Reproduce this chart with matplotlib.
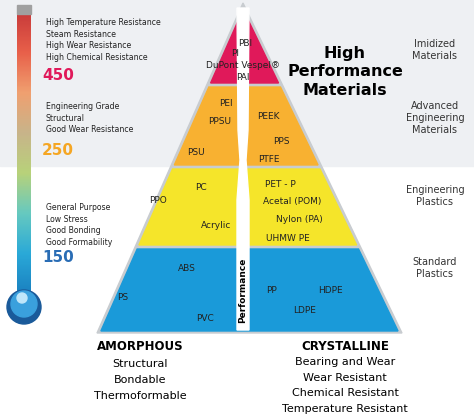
import matplotlib
matplotlib.use("Agg")
import matplotlib.pyplot as plt
import numpy as np
from matplotlib.patches import Polygon, Rectangle, Circle
from matplotlib.colors import LinearSegmentedColormap

# ---- data ----
tiers = ["Imidized\nMaterials", "Advanced\nEngineering\nMaterials", "Engineering\nPlastics", "Standard\nPlastics"]
tier_colors = ["#e0195a", "#f8b131", "#f5e52a", "#1a9ad9"]
tier_bounds = [5, 85, 167, 247, 333]  # y of tier edges (pixel)
temps = ["450", "250", "150"]
temp_colors = ["#e0195a", "#f5a623", "#2a6db5"]
props = ["High Temperature Resistance\nSteam Resistance\nHigh Wear Resistance\nHigh Chemical Resistance",
         "Engineering Grade\nStructural\nGood Wear Resistance",
         "General Purpose\nLow Stress\nGood Bonding\nGood Formability"]
materials = ["PBI", "PI", "DuPont Vespel®", "PAI", "PEI", "PPSU", "PSU", "PEEK", "PPS", "PTFE",
             "PPO", "PC", "Acrylic", "PET - P", "Acetal (POM)", "Nylon (PA)", "UHMW PE",
             "ABS", "PS", "PVC", "PP", "HDPE", "LDPE"]
mat_pos = [(245, 43), (235, 54), (243, 66), (243, 77), (226, 103), (220, 121), (196, 152), (268, 116),
           (281, 141), (269, 159), (158, 200), (201, 187), (216, 225), (280, 184), (292, 201),
           (299, 219), (288, 238), (187, 268), (123, 297), (205, 318), (272, 290), (330, 290), (305, 310)]
amorph = ["Structural", "Bondable", "Thermoformable"]
cryst = ["Bearing and Wear", "Wear Resistant", "Chemical Resistant", "Temperature Resistant"]

W, H = 474, 415
fig = plt.figure(figsize=(W/100, H/100), dpi=100)
ax = fig.add_axes([0, 0, 1, 1])
ax.set_xlim(0, W); ax.set_ylim(H, 0); ax.axis("off")
ax.add_patch(Rectangle((0, 0), W, 166, color="#eef0f3", zorder=0))

apex = (243, 3); bl = (97, 333); br = (402, 333)
def xl(y): return apex[0] + (bl[0]-apex[0])*(y-apex[1])/(bl[1]-apex[1])
def xr(y): return apex[0] + (br[0]-apex[0])*(y-apex[1])/(br[1]-apex[1])
ax.add_patch(Polygon([apex, bl, br], color="#c8ccd0", zorder=1))
for i in range(4):
    y0 = tier_bounds[i] + (2 if i else 8); y1 = tier_bounds[i+1] - 2
    ax.add_patch(Polygon([(xl(y0)+3, y0), (xr(y0)-3, y0), (xr(y1)-3, y1), (xl(y1)+3, y1)],
                         color=tier_colors[i], zorder=2))
# center stripe
ax.add_patch(Polygon([(237, 8), (249, 8), (248, 130), (246, 160), (249, 200), (249, 330),
                      (237, 330), (237, 200), (240, 160), (238, 130)], color="white", zorder=3))
ax.text(243, 290, "Performance", rotation=90, ha="center", va="center", fontsize=6.5,
        fontweight="bold", zorder=4)
for m, (x, y) in zip(materials, mat_pos):
    ax.text(x, y, m, ha="center", va="center", fontsize=6.5, color="#222", zorder=5)
tier_y = [50, 118, 196, 268]
for t, y in zip(tiers, tier_y):
    ax.text(435, y, t, ha="center", va="center", fontsize=7, color="#333", linespacing=1.3)
ax.text(345, 72, "High\nPerformance\nMaterials", ha="center", va="center", fontsize=11.5,
        fontweight="bold", linespacing=1.3)

# thermometer
cmap = LinearSegmentedColormap.from_list("t", ["#c83a3a", "#e8604a", "#f0a070", "#c8b48a",
                                               "#b8d27a", "#66c9c0", "#2aa9d8", "#1a80c0"])
grad = np.linspace(0, 1, 200).reshape(-1, 1)
ax.imshow(grad, extent=(17, 31, 295, 12), cmap=cmap, aspect="auto", zorder=2)
ax.add_patch(Rectangle((17, 5), 14, 9, color="#a0a0a0", zorder=2))
ax.add_patch(Circle((24, 307), 17, color="#1a5a9a", zorder=3))
ax.add_patch(Circle((24, 304), 13, color="#3aa0dd", zorder=3))
ax.add_patch(Circle((22, 298), 5, color="#bfe6fa", zorder=3))
prop_y = [40, 118, 225]
temp_y = [75, 150, 257]
for p, y in zip(props, prop_y):
    ax.text(46, y, p, ha="left", va="center", fontsize=5.6, color="#222", linespacing=1.4)
for t, c, y in zip(temps, temp_colors, temp_y):
    ax.text(42, y, t, ha="left", va="center", fontsize=11, fontweight="bold", color=c)

ax.text(140, 346, "AMORPHOUS", ha="center", va="center", fontsize=8.5, fontweight="bold")
for i, s in enumerate(amorph):
    ax.text(140, 364 + 16*i, s, ha="center", va="center", fontsize=8)
ax.text(345, 346, "CRYSTALLINE", ha="center", va="center", fontsize=8.5, fontweight="bold")
for i, s in enumerate(cryst):
    ax.text(345, 362 + 15.5*i, s, ha="center", va="center", fontsize=8)

fig.savefig("out.png", dpi=100)
